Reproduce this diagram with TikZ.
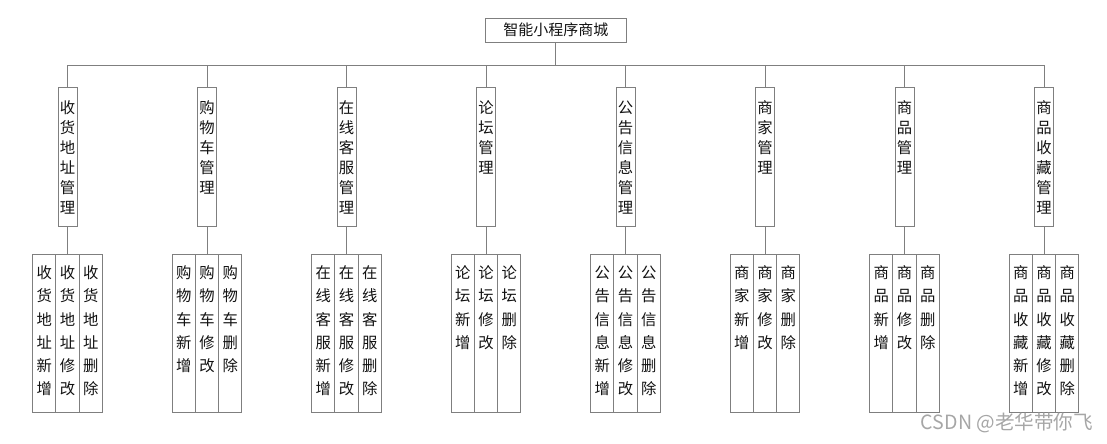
\documentclass[tikz,border=0pt]{standalone}
\usepackage{fontspec}
\setmainfont{Noto Sans CJK SC}
\usetikzlibrary{positioning}

\definecolor{linegray}{HTML}{7F7F7F}
\definecolor{textgray}{HTML}{111111}
\definecolor{wmgray}{HTML}{A6A6A6}

\tikzset{
    rootbox/.style={draw=linegray, line width=.75pt, outer sep=0pt, text=textgray, minimum width=106pt, minimum height=18pt, inner sep=0pt, font=\fontsize{11.25}{14}\selectfont},
    modbox/.style={draw=linegray, line width=.75pt, outer sep=0pt, text=textgray, inner sep=0pt, text width=14.25pt, align=center, text height=19.1pt, text depth=84.8pt, font=\fontsize{11.5}{15}\selectfont},
    leafbox/.style={draw=linegray, line width=.75pt, outer sep=0pt, text=textgray, inner sep=0pt, text width=17.475pt, align=center, text height=18.3pt, text depth=100.9pt, font=\fontsize{11.5}{17.475}\selectfont},
    conn/.style={draw=linegray, line width=.75pt}
}

\begin{document}
\begin{tikzpicture}[x=.75pt, y=.75pt, on grid, node distance=104.625pt]
            \useasboundingbox (0,0) rectangle (1107,-443);

            \node[rootbox] (root) at (555.75,-30) {智能小程序商城};
            \coordinate[below of = root, node distance=26.25pt] (bus);

            \node[modbox] (shouhuo) at (67.5,-157.25) {收\\货\\地\\址\\管\\理};
            \node[modbox, right of = shouhuo] (gouwu) {购\\物\\车\\管\\理};
            \node[modbox, right of = gouwu] (kefu) {在\\线\\客\\服\\管\\理};
            \node[modbox, right of = kefu] (luntan) {论\\坛\\管\\理};
            \node[modbox, right of = luntan] (gonggao) {公\\告\\信\\息\\管\\理};
            \node[modbox, right of = gonggao] (shangjia) {商\\家\\管\\理};
            \node[modbox, right of = shangjia] (shangpin) {商\\品\\管\\理};
            \node[modbox, right of = shangpin] (shoucang) {商\\品\\收\\藏\\管\\理};

            \begin{scope}[node distance=132.19pt]
            \node[leafbox, below of = shouhuo] (shouhuoEdit) {收\\货\\地\\址\\修\\改};
            \node[leafbox, below of = gouwu] (gouwuEdit) {购\\物\\车\\修\\改};
            \node[leafbox, below of = kefu] (kefuEdit) {在\\线\\客\\服\\修\\改};
            \node[leafbox, below of = luntan] (luntanEdit) {论\\坛\\修\\改};
            \node[leafbox, below of = gonggao] (gonggaoEdit) {公\\告\\信\\息\\修\\改};
            \node[leafbox, below of = shangjia] (shangjiaEdit) {商\\家\\修\\改};
            \node[leafbox, below of = shangpin] (shangpinEdit) {商\\品\\修\\改};
            \node[leafbox, below of = shoucang] (shoucangEdit) {商\\品\\收\\藏\\修\\改};
            \end{scope}

            \begin{scope}[node distance=17.475pt]
            \node[leafbox, left of = shouhuoEdit] (shouhuoAdd) {收\\货\\地\\址\\新\\增};
            \node[leafbox, right of = shouhuoEdit] (shouhuoDel) {收\\货\\地\\址\\删\\除};
            \node[leafbox, left of = gouwuEdit] (gouwuAdd) {购\\物\\车\\新\\增};
            \node[leafbox, right of = gouwuEdit] (gouwuDel) {购\\物\\车\\删\\除};
            \node[leafbox, left of = kefuEdit] (kefuAdd) {在\\线\\客\\服\\新\\增};
            \node[leafbox, right of = kefuEdit] (kefuDel) {在\\线\\客\\服\\删\\除};
            \node[leafbox, left of = luntanEdit] (luntanAdd) {论\\坛\\新\\增};
            \node[leafbox, right of = luntanEdit] (luntanDel) {论\\坛\\删\\除};
            \node[leafbox, left of = gonggaoEdit] (gonggaoAdd) {公\\告\\信\\息\\新\\增};
            \node[leafbox, right of = gonggaoEdit] (gonggaoDel) {公\\告\\信\\息\\删\\除};
            \node[leafbox, left of = shangjiaEdit] (shangjiaAdd) {商\\家\\新\\增};
            \node[leafbox, right of = shangjiaEdit] (shangjiaDel) {商\\家\\删\\除};
            \node[leafbox, left of = shangpinEdit] (shangpinAdd) {商\\品\\新\\增};
            \node[leafbox, right of = shangpinEdit] (shangpinDel) {商\\品\\删\\除};
            \node[leafbox, left of = shoucangEdit] (shoucangAdd) {商\\品\\收\\藏\\新\\增};
            \node[leafbox, right of = shoucangEdit] (shoucangDel) {商\\品\\收\\藏\\删\\除};
            \end{scope}

            \node[text=wmgray, font=\fontsize{14.7}{17}\selectfont] (wm) at (1007,-423) {CSDN @老华带你飞};

            \path[conn] (root) -- (bus);
            \path[conn] (bus) -| (shouhuo);
            \path[conn] (bus) -| (gouwu);
            \path[conn] (bus) -| (kefu);
            \path[conn] (bus) -| (luntan);
            \path[conn] (bus) -| (gonggao);
            \path[conn] (bus) -| (shangjia);
            \path[conn] (bus) -| (shangpin);
            \path[conn] (bus) -| (shoucang);

            \path[conn] (shouhuo) -- (shouhuoEdit);
            \path[conn] (gouwu) -- (gouwuEdit);
            \path[conn] (kefu) -- (kefuEdit);
            \path[conn] (luntan) -- (luntanEdit);
            \path[conn] (gonggao) -- (gonggaoEdit);
            \path[conn] (shangjia) -- (shangjiaEdit);
            \path[conn] (shangpin) -- (shangpinEdit);
            \path[conn] (shoucang) -- (shoucangEdit);
        \end{tikzpicture}
\end{document}
